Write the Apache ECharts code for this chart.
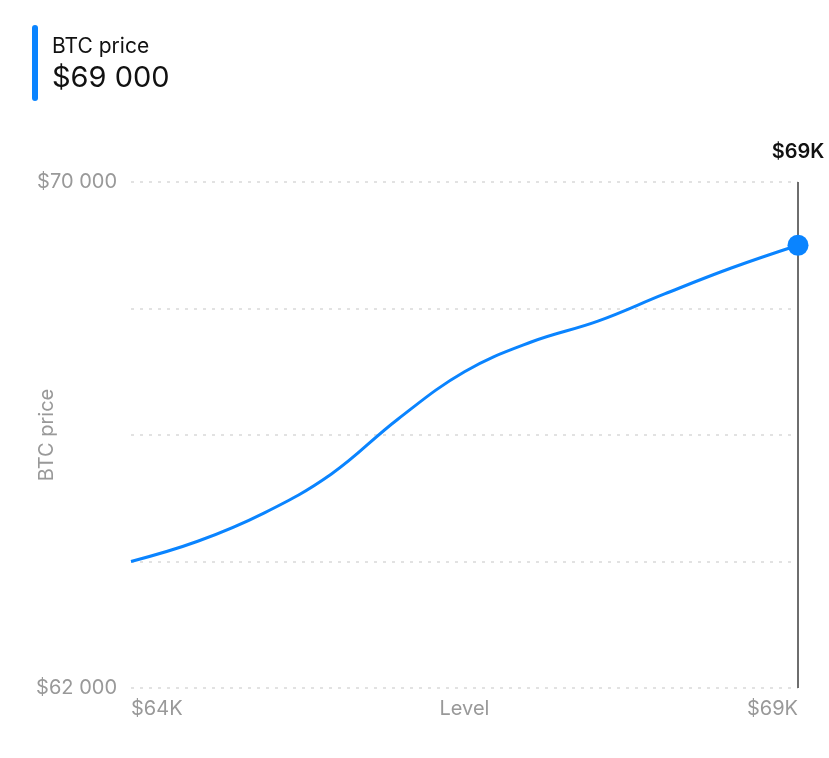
<!DOCTYPE html>
<html>
<head>
<meta charset="utf-8">
<script src="https://cdn.jsdelivr.net/npm/echarts@6/dist/echarts.min.js"></script>
<style>
  html, body { margin: 0; padding: 0; background: #fff; }
  #chart { width: 829px; height: 758px; }
</style>
</head>
<body>
<div id="chart"></div>
<script>
// level on x, BTC price on y
var levels = [64000, 64500, 65000, 65500, 66000, 66500, 67000, 67500, 68000, 68500, 69000];
var prices = [64000, 64320, 64770, 65380, 66250, 67000, 67470, 67800, 68230, 68640, 69000];
var yTicks = [62000, 64000, 66000, 68000, 70000];
var seriesName = 'BTC price';

var blue = '#0a84ff';
var font = 'Inter, "Liberation Sans", sans-serif';

function money(v) {
    return '$' + String(v).replace(/\B(?=(\d{3})+(?!\d))/g, ' ');
}
function moneyK(v) {
    return '$' + Math.round(v / 1000) + 'K';
}

var lineData = levels.map(function (x, i) { return [x, prices[i]]; });
var last = lineData[lineData.length - 1];

var myChart = echarts.init(document.getElementById('chart'));
var option = {
    animation: false,
    grid: { left: 131, right: 31, top: 182, bottom: 70 },
    graphic: [
        { type: 'rect', left: 32, top: 25, shape: { width: 6, height: 76, r: 3 }, style: { fill: blue } },
        { type: 'text', left: 52, top: 36, style: { text: seriesName, fontSize: 21, fill: '#111', fontFamily: font } },
        { type: 'text', left: 52, top: 64, style: { text: money(last[1]), fontSize: 29, fill: '#111', fontFamily: font } }
    ],
    xAxis: {
        type: 'value',
        min: levels[0],
        max: levels[levels.length - 1],
        interval: levels[levels.length - 1] - levels[0],
        name: 'Level',
        nameLocation: 'middle',
        nameGap: 11,
        nameMoveOverlap: false,
        nameTextStyle: { color: '#999', fontSize: 20, fontFamily: font, verticalAlign: 'top' },
        axisLine: { show: false },
        axisTick: { show: false },
        splitLine: { show: false },
        axisLabel: {
            color: '#999', fontSize: 20, fontFamily: font, margin: 11,
            alignMinLabel: 'left', alignMaxLabel: 'right',
            formatter: moneyK
        }
    },
    yAxis: {
        type: 'value',
        min: yTicks[0],
        max: yTicks[yTicks.length - 1],
        interval: yTicks[1] - yTicks[0],
        name: seriesName,
        nameLocation: 'middle',
        nameGap: 74,
        nameMoveOverlap: false,
        nameTextStyle: { color: '#999', fontSize: 20, fontFamily: font },
        axisLine: { show: false },
        axisTick: { show: false },
        splitLine: { lineStyle: { color: '#e2e2e2', width: 2, type: [3, 6] } },
        axisLabel: {
            color: '#999', fontSize: 20, fontFamily: font, margin: 14,
            formatter: function (v) {
                return (v === yTicks[0] || v === yTicks[yTicks.length - 1]) ? money(v) : '';
            }
        }
    },
    series: [
        {
            name: seriesName,
            type: 'line',
            data: lineData,
            smooth: 0.4,
            showSymbol: false,
            lineStyle: { color: blue, width: 3 },
            markLine: {
                silent: true,
                symbol: 'none',
                lineStyle: { color: '#6e6e6e', width: 2, type: 'solid' },
                label: {
                    position: 'end', distance: 20, color: '#111', fontSize: 20, fontWeight: 600, fontFamily: font,
                    formatter: function () { return moneyK(last[0]); }
                },
                data: [{ xAxis: last[0] }]
            }
        },
        {
            name: seriesName,
            type: 'scatter',
            data: [last],
            symbolSize: 21,
            itemStyle: { color: blue, opacity: 1 },
            z: 5
        }
    ]
};
myChart.setOption(option);
</script>
</body>
</html>
